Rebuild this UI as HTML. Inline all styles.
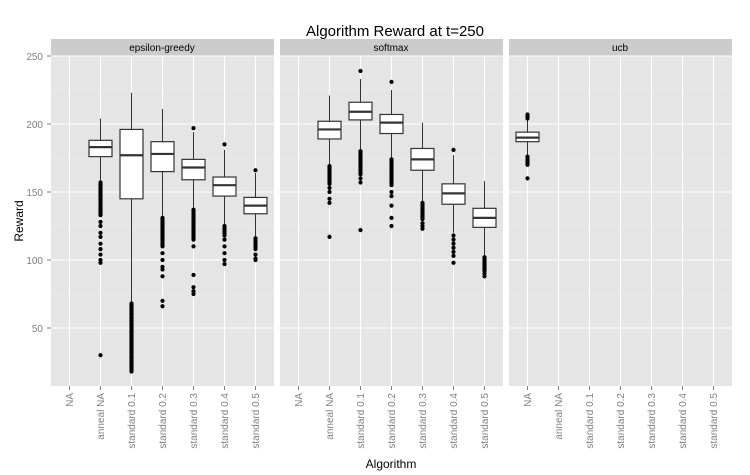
<!DOCTYPE html>
<html><head><meta charset="utf-8"><style>body{margin:0;background:#fff}svg{display:block;font-family:"Liberation Sans",sans-serif}</style></head>
<body>
<svg id="s" width="750" height="475" xmlns="http://www.w3.org/2000/svg">
<rect width="750" height="475" fill="#fff"/>
<text x="395" y="36" font-size="15" text-anchor="middle" fill="#000">Algorithm Reward at t=250</text>
<g font-size="10" fill="#7f7f7f" text-anchor="end">
<text x="43" y="60">250</text><text x="43" y="128">200</text><text x="43" y="196">150</text><text x="43" y="264">100</text><text x="43" y="332">50</text>
</g>
<text transform="translate(23,221) rotate(-90)" font-size="12" text-anchor="middle">Reward</text>
<text x="391" y="468" font-size="12" text-anchor="middle">Algorithm</text>
<g id="panels"></g>
<g font-size="10" fill="#000" text-anchor="middle">
<text x="162" y="51">epsilon-greedy</text><text x="391" y="51">softmax</text><text x="620" y="51">ucb</text>
</g>
<g id="xl" font-size="10" fill="#7f7f7f" text-anchor="end">
<text transform="translate(73,393) rotate(-90)">NA</text>
<text transform="translate(104,393) rotate(-90)">anneal NA</text>
<text transform="translate(135,393) rotate(-90)">standard 0.1</text>
<text transform="translate(166,393) rotate(-90)">standard 0.2</text>
<text transform="translate(197,393) rotate(-90)">standard 0.3</text>
<text transform="translate(228,393) rotate(-90)">standard 0.4</text>
<text transform="translate(259,393) rotate(-90)">standard 0.5</text>
<text transform="translate(302,393) rotate(-90)">NA</text>
<text transform="translate(333,393) rotate(-90)">anneal NA</text>
<text transform="translate(364,393) rotate(-90)">standard 0.1</text>
<text transform="translate(395,393) rotate(-90)">standard 0.2</text>
<text transform="translate(426,393) rotate(-90)">standard 0.3</text>
<text transform="translate(457,393) rotate(-90)">standard 0.4</text>
<text transform="translate(488,393) rotate(-90)">standard 0.5</text>
<text transform="translate(531,393) rotate(-90)">NA</text>
<text transform="translate(562,393) rotate(-90)">anneal NA</text>
<text transform="translate(593,393) rotate(-90)">standard 0.1</text>
<text transform="translate(624,393) rotate(-90)">standard 0.2</text>
<text transform="translate(655,393) rotate(-90)">standard 0.3</text>
<text transform="translate(686,393) rotate(-90)">standard 0.4</text>
<text transform="translate(717,393) rotate(-90)">standard 0.5</text>
</g>
</svg>
<script>
var NS="http://www.w3.org/2000/svg",g=document.getElementById("panels");
function el(t,a){var e=document.createElementNS(NS,t);for(var k in a)e.setAttribute(k,a[k]);g.appendChild(e);return e}
function Y(v){return 56+(250-v)*1.36}
var starts=[51,280,509];
// y-axis ticks
[250,200,150,100,50].forEach(function(v){el("line",{x1:47,x2:51,y1:Y(v),y2:Y(v),stroke:"#7f7f7f"})});
starts.forEach(function(x0){
 el("rect",{x:x0,y:39,width:223,height:17,fill:"#cccccc"});
 el("rect",{x:x0,y:56,width:223,height:330,fill:"#e5e5e5"});
 [225,175,125,75].forEach(function(v){el("line",{x1:x0,x2:x0+223,y1:Y(v),y2:Y(v),stroke:"#f2f2f2","stroke-width":0.6})});
 [250,200,150,100,50].forEach(function(v){el("line",{x1:x0,x2:x0+223,y1:Y(v),y2:Y(v),stroke:"#fff","stroke-width":1.1})});
 for(var i=0;i<7;i++){var x=x0+18.5+31*i;el("line",{x1:x,x2:x,y1:56,y2:386,stroke:"#fff","stroke-width":1.1});el("line",{x1:x,x2:x,y1:386,y2:390,stroke:"#7f7f7f"});}
});
function range(a,b,n){var r=[];for(var i=0;i<n;i++)r.push(a+(b-a)*i/(n-1));return r}
// [panel, idx, wlo, q1, med, q3, whi, outliers]
var D=[
[0,1,158,176,183,188,204,range(133,157,20).concat([128,125,120,117,112,108,104,100,98,30])],
[0,2,69,145,177,196,223,range(18,68,50)],
[0,3,131,165,178,187,211,range(110,131,20).concat([105,100,95,93,88,70,66])],
[0,4,137,159,168,174,194,[197].concat(range(115,137,20),[110,89,80,77,75])],
[0,5,125,147,155,161,181,[185].concat(range(118,125,6),[115,110,105,100,97])],
[0,6,116,134,140,146,164,[166].concat(range(108,116,6),[104,101,100])],
[1,1,170,189,196,202,221,range(156,169,12).concat([153,150,145,142,117])],
[1,2,181,203,209,216,233,[239].concat(range(163,180,15),[160,157,122])],
[1,3,175,193,201,207,225,[231].concat(range(155,174,15),[150,147,140,131,125])],
[1,4,143,166,174,182,201,range(130,142,12).concat([127,125,123])],
[1,5,120,141,149,156,177,[181,118,115,112,109,106,103,98]],
[1,6,103,124,131,138,158,range(92,102,12).concat([90,88])],
[2,0,177,187,190,194,203,[207,206,205,204,176,175,174,173,172,171,170,160]]
];
D.forEach(function(d){
 var cx=starts[d[0]]+18.5+31*d[1],w=23;
 el("line",{x1:cx,x2:cx,y1:Y(d[6]),y2:Y(d[5]),stroke:"#333"});
 el("line",{x1:cx,x2:cx,y1:Y(d[3]),y2:Y(d[2]),stroke:"#333"});
 el("rect",{x:cx-w/2,y:Y(d[5]),width:w,height:Y(d[3])-Y(d[5]),fill:"#fff",stroke:"#333","stroke-width":1.2});
 el("line",{x1:cx-w/2,x2:cx+w/2,y1:Y(d[4]),y2:Y(d[4]),stroke:"#333","stroke-width":2.2});
 d[7].forEach(function(v){el("circle",{cx:cx,cy:Y(v),r:2.1,fill:"#000"})});
});
</script>
</body></html>
